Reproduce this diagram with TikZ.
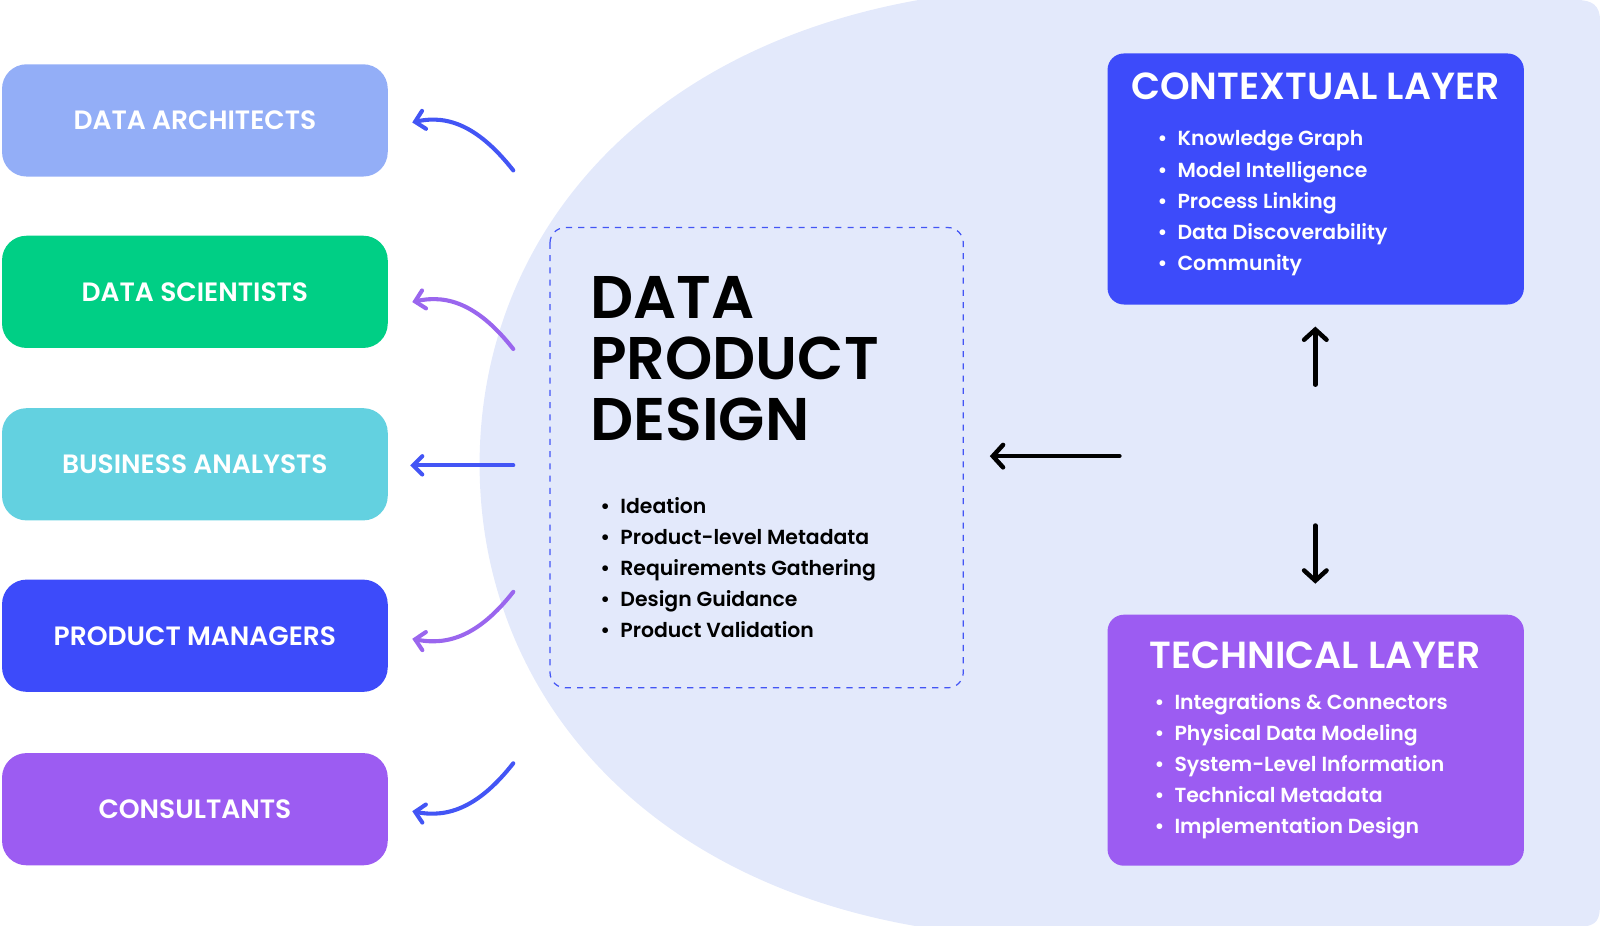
\documentclass[tikz,border=0pt]{standalone}
\usepackage{fontspec}
\setmainfont{Poppins}[BoldFont=Poppins SemiBold]
\newfontfamily\med{Poppins Medium}
\usetikzlibrary{arrows.meta}
\definecolor{bg}{HTML}{E3E9FB}
\definecolor{c1}{HTML}{93AEF7}
\definecolor{c2}{HTML}{00CF85}
\definecolor{c3}{HTML}{63D1E0}
\definecolor{c4}{HTML}{3D4BFA}
\definecolor{c5}{HTML}{9C5CF2}
\definecolor{ablue}{HTML}{4355F5}
\definecolor{apurp}{HTML}{9A66EE}
\tikzset{
 role/.style={rounded corners=12pt,minimum width=189pt,minimum height=55pt,text=white,font=\fontsize{13}{15}\selectfont\bfseries},
 layer/.style={rounded corners=8pt,minimum width=204pt,minimum height=123pt,anchor=north west},
 bul/.style={anchor=base west,inner sep=0pt,font=\fontsize{10}{12}\selectfont\bfseries,text=white},
 cbul/.style={anchor=base west,inner sep=0pt,font=\fontsize{10}{12}\selectfont\bfseries,text=black},
 carr/.style={line width=2pt,line cap=round,-{Straight Barb[length=4.5pt,width=9pt,line cap=round]}},
 barr/.style={line width=2.2pt,line cap=round,black,-{Straight Barb[length=5pt,width=11pt,line cap=round]}}
}
\begin{document}
\begin{tikzpicture}[x=0.5pt,y=-0.5pt]
\useasboundingbox (0,0) rectangle (1568,906.5);
\fill[bg] (900,0) .. controls (620,50) and (470,240) .. (470,455) .. controls (470,670) and (620,860) .. (900,908) -- (1548,908) .. controls (1566,908) and (1568,900) .. (1568,885) -- (1568,20) .. controls (1568,5) and (1560,0) .. (1545,0) -- cycle;
\node[role,fill=c1] (r1) at (191,118) {DATA ARCHITECTS};
\node[role,fill=c2] (r2) at (191,286) {DATA SCIENTISTS};
\node[role,fill=c3] (r3) at (191,455) {BUSINESS ANALYSTS};
\node[role,fill=c4] (r4) at (191,623) {PRODUCT MANAGERS};
\node[role,fill=c5] (r5) at (191,793) {CONSULTANTS};
\coordinate (s1) at (503,167); \coordinate (e1) at (404,120);
\coordinate (s2) at (503,342); \coordinate (e2) at (404,296);
\coordinate (s3) at (503,456); \coordinate (e3) at (402,456);
\coordinate (s4) at (503,580); \coordinate (e4) at (404,626);
\coordinate (s5) at (503,748); \coordinate (e5) at (404,795);
\draw[carr,ablue] (s1) .. controls (470,125) and (440,112) .. (e1);
\draw[carr,apurp] (s2) .. controls (470,300) and (440,288) .. (e2);
\draw[carr,ablue] (s3) -- (e3);
\draw[carr,apurp] (s4) .. controls (470,622) and (440,633) .. (e4);
\draw[carr,ablue] (s5) .. controls (470,790) and (440,802) .. (e5);
\draw[ablue,dashed,line width=0.6pt,rounded corners=7.5pt] (539,223) rectangle (944,674);
\node (dt) [anchor=north west,align=left,font=\fontsize{29.5}{30}\selectfont\bfseries,inner sep=0pt] at (578,270) {DATA\\PRODUCT\\DESIGN};
\foreach \t [count=\i] in {Ideation,Product-level Metadata,Requirements Gathering,Design Guidance,Product Validation}
  \node[cbul] (d\i) at (588,{503+30.5*(\i-1)}) {\textbullet\hspace{5pt}\t};
\node[layer,fill=c4] (cl) at (1085,52) {};
\node[text=white,font=\fontsize{18.5}{20}\selectfont\bfseries] (clt) at (1289,85) {CONTEXTUAL LAYER};
\foreach \t [count=\i] in {Knowledge Graph,Model Intelligence,Process Linking,Data Discoverability,Community}
  \node[bul] (cb\i) at (1134,{143+30.5*(\i-1)}) {\textbullet\hspace{5pt}\t};
\node[layer,fill=c5] (tl) at (1085,602) {};
\node[text=white,font=\fontsize{18.5}{20}\selectfont\bfseries] (tlt) at (1289,642) {TECHNICAL LAYER};
\foreach \t [count=\i] in {Integrations \& Connectors,Physical Data Modeling,System-Level Information,Technical Metadata,Implementation Design}
  \node[bul] (tb\i) at (1131,{695+30.5*(\i-1)}) {\textbullet\hspace{5pt}\t};
\coordinate (u1) at (1289,377); \coordinate (u2) at (1289,320);
\coordinate (v1) at (1289,515); \coordinate (v2) at (1289,572);
\coordinate (w1) at (1097,447); \coordinate (w2) at (970,447);
\draw[barr] (u1) -- (u2);
\draw[barr] (v1) -- (v2);
\draw[barr] (w1) -- (w2);
\end{tikzpicture}
\end{document}
